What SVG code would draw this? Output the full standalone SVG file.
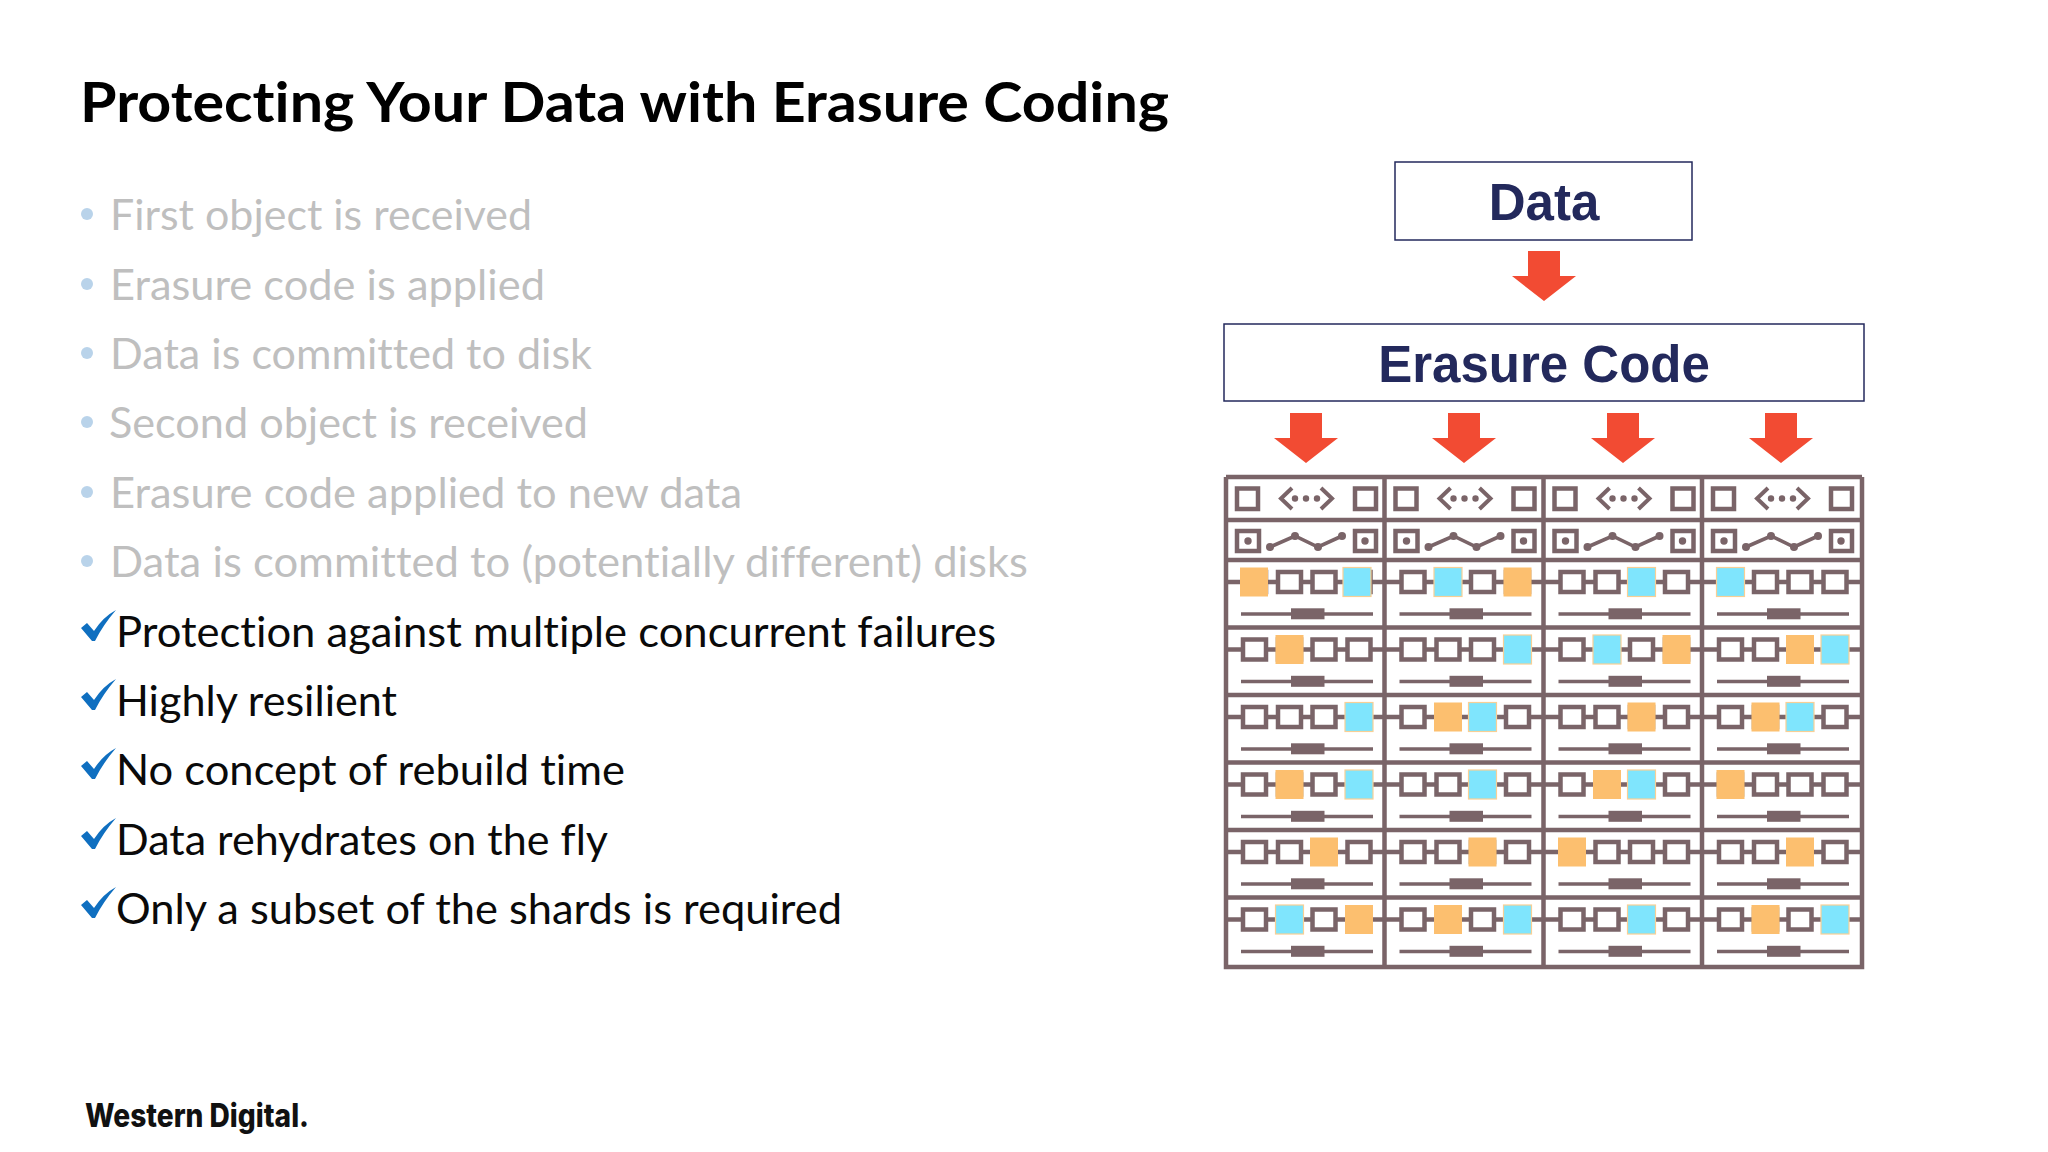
<svg xmlns="http://www.w3.org/2000/svg" width="2048" height="1152" viewBox="0 0 2048 1152">
<style>
text{font-family:"Lato","Liberation Sans",sans-serif;font-variant-ligatures:none}
.title{font-size:56px;font-weight:700;fill:#000}
.dim{font-size:42px;fill:#bfbfbf}
.live{font-size:42px;fill:#0a0a0a}
.bul{fill:#b9d3ea}
.chk{fill:#0f6fc0}
.box{fill:#fff;stroke:#23295c;stroke-width:1.5}
.lbl{font-family:"Liberation Sans",Arial,sans-serif;font-size:51px;font-weight:700;fill:#23295c;text-anchor:middle}
.ar{fill:#f24b33}
.g{stroke:#7a6468;fill:none;stroke-width:4.5}
.gf{fill:#7a6468}
.s{fill:#fff;stroke:#7a6468;stroke-width:4.5}
.o{fill:#fcbf6f}
.c{fill:#7fe5fd;stroke:#f8cf95;stroke-width:1.2}
</style>
<defs>
<path id="arrow" class="ar" d="M-16 0H16V25H32L0 50L-32 25H-16Z"/>
<path id="tick" class="chk" d="M81 628L87 623L94 631Q103 617 116 610Q103 625 95 641L92 641Z"/>
<g id="hdr">
<rect class="s" x="12" y="11.5" width="21" height="20.5"/>
<rect class="s" x="130" y="11.5" width="21" height="20.5"/>
<path class="g" style="stroke-width:4" d="M67 11L56 21.5L67 32M96 11L107 21.5L96 32"/>
<circle class="gf" cx="70" cy="21.5" r="3.2"/><circle class="gf" cx="81" cy="21.5" r="3.2"/><circle class="gf" cx="92" cy="21.5" r="3.2"/>
<rect class="s" x="12" y="54" width="22" height="20"/>
<rect class="s" x="130" y="54" width="21" height="20"/>
<circle class="gf" cx="23" cy="64" r="3.7"/><circle class="gf" cx="140" cy="64" r="3.7"/>
<path class="g" style="stroke-width:3.6" d="M45 70L70 59L93 70L117 59"/>
<circle class="gf" cx="45" cy="70" r="4"/><circle class="gf" cx="70" cy="59" r="4"/><circle class="gf" cx="93" cy="70" r="4"/><circle class="gf" cx="117" cy="59" r="4"/>
</g>
<g id="cell">
<path class="g" d="M0 22H159"/>
<path class="g" style="stroke-width:3.6" d="M15 54H147"/>
<rect class="gf" x="65" y="48.3" width="33.5" height="11"/>
<rect class="s" x="17" y="12" width="23" height="20"/>
<rect class="s" x="52" y="12" width="23" height="20"/>
<rect class="s" x="86.5" y="12" width="23" height="20"/>
<rect class="s" x="121.5" y="12" width="23" height="20"/>
</g>
<rect id="o" class="o" x="-14" y="7.5" width="28" height="29"/>
<rect id="c" class="c" x="-14" y="7.5" width="28" height="29"/>
</defs>
<rect width="2048" height="1152" fill="#fff"/>
<text id="title" class="title" x="80" y="122" textLength="1089" lengthAdjust="spacingAndGlyphs">Protecting Your Data with Erasure Coding</text>
<g id="dim-bullets">
<circle class="bul" cx="87" cy="214" r="6"/><text class="dim" x="110" y="230" textLength="422" lengthAdjust="spacingAndGlyphs">First object is received</text>
<circle class="bul" cx="87" cy="284" r="6"/><text class="dim" x="110" y="300" textLength="435" lengthAdjust="spacingAndGlyphs">Erasure code is applied</text>
<circle class="bul" cx="87" cy="353" r="6"/><text class="dim" x="110" y="369" textLength="482" lengthAdjust="spacingAndGlyphs">Data is committed to disk</text>
<circle class="bul" cx="87" cy="422" r="6"/><text class="dim" x="109" y="438" textLength="479" lengthAdjust="spacingAndGlyphs">Second object is received</text>
<circle class="bul" cx="87" cy="492" r="6"/><text class="dim" x="110" y="508" textLength="632" lengthAdjust="spacingAndGlyphs">Erasure code applied to new data</text>
<circle class="bul" cx="87" cy="561" r="6"/><text class="dim" x="110" y="577" textLength="918" lengthAdjust="spacingAndGlyphs">Data is committed to (potentially different) disks</text>
</g>
<g id="live-bullets">
<use href="#tick"/><text class="live" x="116" y="647" textLength="880" lengthAdjust="spacingAndGlyphs">Protection against multiple concurrent failures</text>
<use href="#tick" y="69"/><text class="live" x="116" y="716" textLength="281" lengthAdjust="spacingAndGlyphs">Highly resilient</text>
<use href="#tick" y="138"/><text class="live" x="116" y="785" textLength="509" lengthAdjust="spacingAndGlyphs">No concept of rebuild time</text>
<use href="#tick" y="208"/><text class="live" x="116" y="855" textLength="492" lengthAdjust="spacingAndGlyphs">Data rehydrates on the fly</text>
<use href="#tick" y="277"/><text class="live" x="116" y="924" textLength="726" lengthAdjust="spacingAndGlyphs">Only a subset of the shards is required</text>
</g>
<g id="logo"><text x="85" y="1127" style="font-family:Inter,'Liberation Sans',sans-serif;font-size:32px;font-weight:800;fill:#111" textLength="224" lengthAdjust="spacingAndGlyphs">Western Digital.</text></g>
<g id="node-data"><rect class="box" x="1395" y="162" width="297" height="78"/><text class="lbl" x="1544" y="220">Data</text></g>
<g id="node-erasure"><rect class="box" x="1224" y="324" width="640" height="77"/><text class="lbl" x="1544" y="382">Erasure Code</text></g>
<g id="connectors">
<use href="#arrow" x="1544" y="251"/>
<use href="#arrow" x="1306" y="413"/>
<use href="#arrow" x="1464" y="413"/>
<use href="#arrow" x="1623" y="413"/>
<use href="#arrow" x="1781" y="413"/>
</g>
<g id="array">
<g id="col1" transform="translate(1226 0)">
<use href="#hdr" x="-1" y="477"/>
<g transform="translate(0 560)"><use href="#cell"/><use href="#o" x="28" /><use href="#c" x="131"/></g>
<g transform="translate(0 627.5)"><use href="#cell"/><use href="#o" x="63.5"/></g>
<g transform="translate(0 695)"><use href="#cell"/><use href="#c" x="133"/></g>
<g transform="translate(0 762.5)"><use href="#cell"/><use href="#o" x="63.5"/><use href="#c" x="133"/></g>
<g transform="translate(0 830)"><use href="#cell"/><use href="#o" x="98"/></g>
<g transform="translate(0 897.5)"><use href="#cell"/><use href="#c" x="63.5"/><use href="#o" x="133"/></g>
</g>
<g id="col2" transform="translate(1384.5 0)">
<use href="#hdr" x="-1" y="477"/>
<g transform="translate(0 560)"><use href="#cell"/><use href="#c" x="63.5"/><use href="#o" x="133"/></g>
<g transform="translate(0 627.5)"><use href="#cell"/><use href="#c" x="133"/></g>
<g transform="translate(0 695)"><use href="#cell"/><use href="#o" x="63.5"/><use href="#c" x="98"/></g>
<g transform="translate(0 762.5)"><use href="#cell"/><use href="#c" x="98"/></g>
<g transform="translate(0 830)"><use href="#cell"/><use href="#o" x="98"/></g>
<g transform="translate(0 897.5)"><use href="#cell"/><use href="#o" x="63.5"/><use href="#c" x="133"/></g>
</g>
<g id="col3" transform="translate(1543.5 0)">
<use href="#hdr" x="-1" y="477"/>
<g transform="translate(0 560)"><use href="#cell"/><use href="#c" x="98"/></g>
<g transform="translate(0 627.5)"><use href="#cell"/><use href="#c" x="63.5"/><use href="#o" x="133"/></g>
<g transform="translate(0 695)"><use href="#cell"/><use href="#o" x="98"/></g>
<g transform="translate(0 762.5)"><use href="#cell"/><use href="#o" x="63.5"/><use href="#c" x="98"/></g>
<g transform="translate(0 830)"><use href="#cell"/><use href="#o" x="28.5"/></g>
<g transform="translate(0 897.5)"><use href="#cell"/><use href="#c" x="98"/></g>
</g>
<g id="col4" transform="translate(1702 0)">
<use href="#hdr" x="-1" y="477"/>
<g transform="translate(0 560)"><use href="#cell"/><use href="#c" x="28.5"/></g>
<g transform="translate(0 627.5)"><use href="#cell"/><use href="#o" x="98"/><use href="#c" x="133"/></g>
<g transform="translate(0 695)"><use href="#cell"/><use href="#o" x="63.5"/><use href="#c" x="98"/></g>
<g transform="translate(0 762.5)"><use href="#cell"/><use href="#o" x="28.5"/></g>
<g transform="translate(0 830)"><use href="#cell"/><use href="#o" x="98"/></g>
<g transform="translate(0 897.5)"><use href="#cell"/><use href="#o" x="63.5"/><use href="#c" x="133"/></g>
</g>
<path class="g" d="M1226 477H1862M1226 520H1862M1226 560H1862M1226 627.5H1862M1226 695H1862M1226 762.5H1862M1226 830H1862M1226 897.5H1862"/>
<path class="g" d="M1226 477V967H1862V477M1384.5 477V967M1543.5 477V967M1702 477V967"/>
</g>
</svg>
